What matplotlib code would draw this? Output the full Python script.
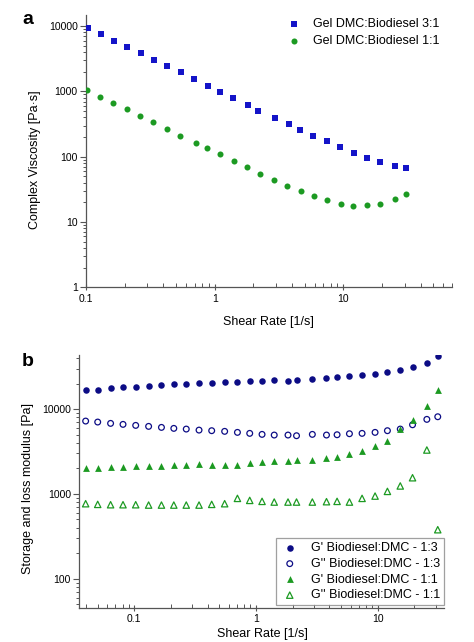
import matplotlib
matplotlib.use("Agg")
import matplotlib.pyplot as plt
from matplotlib.ticker import LogLocator, NullFormatter

plt.rcParams['font.family'] = ['Liberation Sans', 'DejaVu Sans']

# ---------- Panel a data ----------
a_x_31 = [0.103, 0.130, 0.165, 0.21, 0.267, 0.339, 0.43, 0.547, 0.695, 0.88,
          1.11, 1.39, 1.82, 2.16, 2.92, 3.78, 4.59, 5.77, 7.41, 9.48,
          12.05, 15.2, 19.2, 25.1, 30.8]
a_y_31 = [9210, 7530, 6020, 4760, 3850, 3080, 2430, 1950, 1540, 1230,
          982, 785, 614, 502, 396, 321, 260, 210, 172, 139,
          114, 94, 82, 73, 67]
a_x_11 = [0.102, 0.129, 0.163, 0.207, 0.264, 0.330, 0.423, 0.540, 0.711, 0.866,
          1.10, 1.41, 1.79, 2.25, 2.90, 3.66, 4.66, 5.91, 7.50, 9.53,
          11.97, 15.2, 19.3, 25.1, 31.0]
a_y_11 = [1055, 834, 658, 532, 421, 336, 266, 205, 164, 137,
          110, 87, 69, 55, 44, 36, 30, 24.6, 21.4, 19.2,
          17.7, 18.5, 19.0, 22.6, 26.7]
a_labels = ["Gel DMC:Biodiesel 3:1", "Gel DMC:Biodiesel 1:1"]

# ---------- Panel b data ----------
b_x = [0.0398, 0.050, 0.0638, 0.0807, 0.1026, 0.131, 0.167, 0.211, 0.267, 0.340,
       0.432, 0.552, 0.703, 0.887, 1.12, 1.41, 1.83, 2.15, 2.90, 3.79,
       4.63, 5.85, 7.43, 9.50, 12.0, 15.3, 19.3, 25.3, 31.1]
b_gp_13 = [16600, 16900, 17500, 18000, 18300, 18800, 19200, 19700, 19900, 20100,
           20400, 20600, 21000, 21200, 21600, 21800, 21600, 22200, 22800, 23200,
           23800, 24700, 25400, 26100, 27100, 29100, 31600, 35200, 42200]
b_gpp_13 = [7220, 7030, 6780, 6600, 6420, 6250, 6080, 5920, 5810, 5650,
            5560, 5460, 5310, 5170, 5030, 4940, 4940, 4850, 5030, 4940,
            4980, 5120, 5170, 5310, 5560, 5810, 6530, 7560, 8120]
b_gp_11 = [2020, 2020, 2050, 2090, 2110, 2130, 2150, 2190, 2210, 2230,
           2210, 2170, 2190, 2310, 2370, 2420, 2440, 2480, 2530, 2650,
           2740, 2950, 3200, 3630, 4200, 5750, 7420, 11000, 16900]
b_gpp_11 = [766, 752, 745, 745, 745, 738, 738, 738, 738, 738,
            752, 766, 885, 838, 816, 801, 801, 801, 801, 809,
            816, 801, 885, 942, 1070, 1240, 1550, 3290, 378]
b_labels = ["G' Biodiesel:DMC - 1:3", "G'' Biodiesel:DMC - 1:3",
            "G' Biodiesel:DMC - 1:1", "G'' Biodiesel:DMC - 1:1"]

blue = '#1414c8'
navy = '#0c0c85'
green = '#1c9a22'
spine_c = '#555555'

fig = plt.figure(figsize=(4.74, 6.42), dpi=100)

def style(ax):
    for s in ['top', 'right']:
        ax.spines[s].set_visible(False)
    for s in ['left', 'bottom']:
        ax.spines[s].set_color(spine_c)
        ax.spines[s].set_linewidth(0.9)
    ax.set_xscale('log')
    ax.set_yscale('log')
    ax.xaxis.set_major_locator(LogLocator(base=10, numticks=10))
    ax.xaxis.set_minor_locator(LogLocator(base=10, subs=range(2, 10), numticks=20))
    ax.yaxis.set_major_locator(LogLocator(base=10, numticks=10))
    ax.yaxis.set_minor_locator(LogLocator(base=10, subs=range(2, 10), numticks=20))
    ax.xaxis.set_minor_formatter(NullFormatter())
    ax.yaxis.set_minor_formatter(NullFormatter())
    ax.tick_params(axis='x', which='major', direction='inout', length=5, width=0.8,
                   color=spine_c, labelsize=7.5, pad=2)
    ax.tick_params(axis='x', which='minor', direction='in', length=3, width=0.7, color=spine_c)
    ax.tick_params(axis='y', which='major', direction='out', length=4, width=0.8,
                   color=spine_c, labelsize=7.5, pad=2)
    ax.tick_params(axis='y', which='minor', direction='out', length=2, width=0.7, color=spine_c)
    ax.xaxis.set_major_formatter(matplotlib.ticker.FuncFormatter(lambda v, p: f"{v:g}"))
    ax.yaxis.set_major_formatter(matplotlib.ticker.FuncFormatter(lambda v, p: f"{v:g}"))

# Panel a
axa = fig.add_axes([86/474, 1-287.3/642, (452-86)/474, (287.3-15)/642])
style(axa)
axa.scatter(a_x_31, a_y_31, marker='s', s=14, color=blue, linewidths=0, label=a_labels[0], zorder=3)
axa.scatter(a_x_11, a_y_11, marker='o', s=19, color=green, linewidths=0, label=a_labels[1], zorder=3)
axa.set_xlim(0.1, 70)
axa.set_ylim(1, 14800)
axa.legend(loc='upper right', bbox_to_anchor=(0.985, 1.015), frameon=False, fontsize=9,
           handletextpad=0.9, borderaxespad=0.2, labelspacing=0.35, handlelength=1.2,
           markerscale=1.0)
fig.text(35/474, 1-160/642, "Complex Viscosity [Pa\u00b7s]", rotation=90,
         ha='center', va='center', fontsize=9)
fig.text(268/474, 1-322/642, "Shear Rate [1/s]", ha='center', va='center', fontsize=9)
fig.text(28/474, 1-20/642, "a", ha='center', va='center', fontsize=14, fontweight='bold')

# Panel b
axb = fig.add_axes([79.3/474, 1-607.7/642, (444-79.3)/474, (607.7-355)/642])
style(axb)
axb.scatter(b_x, b_gp_13, marker='o', s=22, color=navy, linewidths=0, label=b_labels[0], zorder=3)
axb.scatter(b_x, b_gpp_13, marker='o', s=17, facecolors='none', edgecolors=navy,
            linewidths=0.9, label=b_labels[1], zorder=3)
axb.scatter(b_x, b_gp_11, marker='^', s=24, color=green, linewidths=0, label=b_labels[2], zorder=3)
axb.scatter(b_x, b_gpp_11, marker='^', s=21, facecolors='none', edgecolors=green,
            linewidths=0.9, label=b_labels[3], zorder=3)
axb.set_xlim(0.0353, 35)
axb.set_ylim(45.5, 43400)
leg = axb.legend(loc='lower right', bbox_to_anchor=(1.0, 0.01), frameon=True, fontsize=9,
                 handletextpad=0.9, borderaxespad=0.0, labelspacing=0.3, handlelength=1.6,
                 fancybox=False, borderpad=0.3)
leg.get_frame().set_edgecolor('#888888')
leg.get_frame().set_linewidth(0.9)
fig.text(28/474, 1-489/642, "Storage and loss modulus [Pa]", rotation=90,
         ha='center', va='center', fontsize=9)
fig.text(262/474, 1-634/642, "Shear Rate [1/s]", ha='center', va='center', fontsize=9)
fig.text(28/474, 1-362/642, "b", ha='center', va='center', fontsize=14, fontweight='bold')

fig.savefig("out.png", dpi=100)
